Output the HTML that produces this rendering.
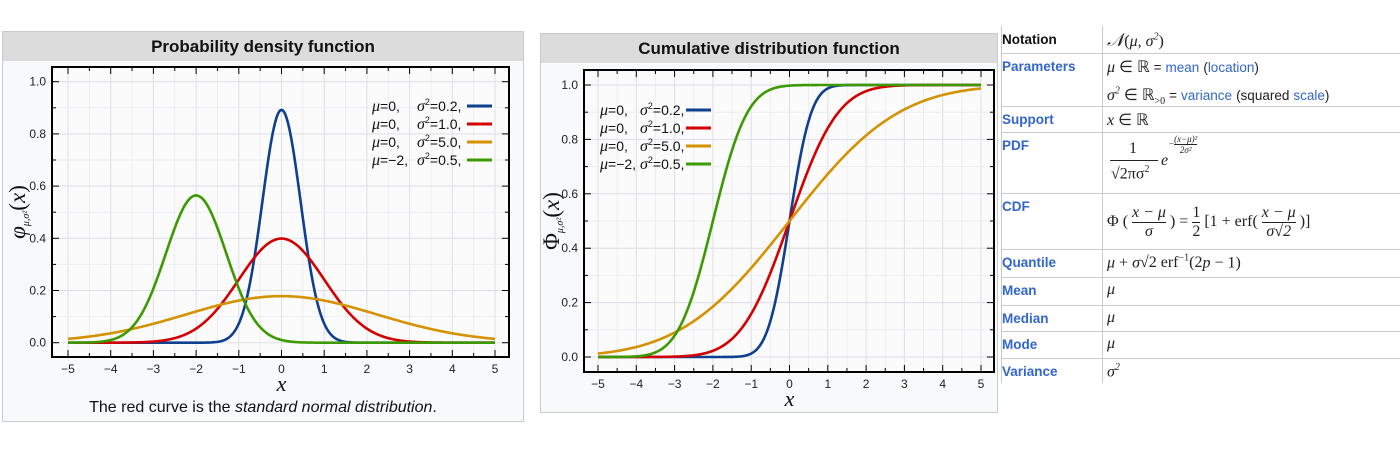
<!DOCTYPE html>
<html><head><meta charset="utf-8">
<style>
body{margin:0;width:1400px;height:450px;background:#fff;position:relative;overflow:hidden;font-family:"Liberation Sans",sans-serif;}
.panel{position:absolute;background:#f8f9fa;border:1px solid #c8ccd1;box-sizing:border-box;}
.hdr{position:absolute;left:0;right:0;top:0;height:29px;background:#dcdcdc;font-weight:bold;font-size:17px;text-align:center;line-height:30px;color:#111;}
svg{position:absolute;left:0;top:0;}
.row{position:absolute;left:1001px;width:399px;border-bottom:1px solid #c8ccd1;box-sizing:border-box;}
.lab{position:absolute;left:1px;top:5px;font-weight:bold;font-size:13.5px;color:#3366cc;}
.val{position:absolute;left:106px;top:3px;font-family:"Liberation Serif",serif;font-size:16px;color:#202122;font-style:italic;white-space:nowrap;}
.val .n{font-style:normal;}
.val .a{font-family:"Liberation Sans",sans-serif;font-style:normal;font-size:13.5px;color:#3366cc;}
.val .k{font-family:"Liberation Sans",sans-serif;font-style:normal;font-size:13.5px;color:#202122;}
</style></head><body>
<div class="panel" style="left:2px;top:31px;width:522px;height:391px;">
 <div class="hdr">Probability density function</div>
 <div style="position:absolute;left:0;right:0;top:367px;text-align:center;font-size:16px;color:#111;">The red curve is the <i>standard normal distribution</i>.</div>
</div>
<div class="panel" style="left:540px;top:33px;width:458px;height:380px;">
 <div class="hdr">Cumulative distribution function</div>
</div>
<div style="position:absolute;left:1102px;top:26px;width:1px;height:357px;background:#c8ccd1;z-index:2"></div>
<div style="position:absolute;left:1001px;top:26px;width:1px;height:357px;background:#c8ccd1"></div>
<div id="rows"></div>
<svg id="chart" width="1400" height="450"></svg>
<script>
const mus=[0,0,0,-2];
const vars=[0.2,1.0,5.0,0.5];
const colors=['#0f3f8f','#d40000','#d49100','#3c9a00'];
const legendMu=['0,','0,','0,','−2,'];
const legendVar=['0.2,','1.0,','5.0,','0.5,'];
const xTicks=[-5,-4,-3,-2,-1,0,1,2,3,4,5];
const yTicks=[0,0.2,0.4,0.6,0.8,1.0];
const NS='http://www.w3.org/2000/svg';
const svg=document.getElementById('chart');
function mk(t,a,p){const e=document.createElementNS(NS,t);for(const k in a)e.setAttribute(k,a[k]);(p||svg).appendChild(e);return e;}
function erf(x){const s=x<0?-1:1;x=Math.abs(x);const t=1/(1+0.3275911*x);const y=1-(((((1.061405429*t-1.453152027)*t)+1.421413741)*t-0.284496736)*t+0.254829592)*t*Math.exp(-x*x);return s*y;}
function pdf(x,m,v){return Math.exp(-(x-m)*(x-m)/(2*v))/Math.sqrt(2*Math.PI*v);}
function cdf(x,m,v){return 0.5*(1+erf((x-m)/Math.sqrt(2*v)));}
function chart(c){
 const X=x=>c.x0+(x+5)/10*(c.x1-c.x0);
 const Y=y=>c.y0-y*(c.y0-c.y1);
 const g=mk('g',{});
 
 
 mk('rect',{x:c.fl,y:c.ft,width:c.fr-c.fl,height:c.fb-c.ft,fill:'#fbfbfc'},g);
 for(let i=-10;i<=10;i++){const x=X(i/2);const gl=mk('line',{x1:x,x2:x,y1:c.ft,y2:c.fb,stroke:i%2==0?'#dcdfe4':'#eceef1','stroke-width':1},g);}
 for(let i=0;i<=10;i++){const y=Y(i/10);const gl=mk('line',{x1:c.fl,x2:c.fr,y1:y,y2:y,stroke:i%2==0?'#dcdfe4':'#eceef1','stroke-width':1},g);}
 for(let i=-10;i<=10;i++){const x=X(i/2);const L=i%2==0?7:4;
  mk('line',{x1:x,x2:x,y1:c.fb,y2:c.fb-L,stroke:'#000'},g);mk('line',{x1:x,x2:x,y1:c.ft,y2:c.ft+L,stroke:'#000'},g);}
 for(let i=0;i<=10;i++){const y=Y(i/10);const L=i%2==0?7:4;
  mk('line',{x1:c.fl,x2:c.fl+L,y1:y,y2:y,stroke:'#000'},g);mk('line',{x1:c.fr,x2:c.fr-L,y1:y,y2:y,stroke:'#000'},g);}
 xTicks.forEach(t=>{const e=mk('text',{x:X(t),y:c.fb+16,'text-anchor':'middle','font-size':12,fill:'#222'},g);e.textContent=t<0?'−'+(-t):t;});
 yTicks.forEach(t=>{const e=mk('text',{x:c.fl-6,y:Y(t)+4,'text-anchor':'end','font-size':12,fill:'#222'},g);e.textContent=t.toFixed(1);});
 mus.forEach((m,k)=>{let d='';for(let i=0;i<=400;i++){const x=-5+i*10/400;d+=(i?'L':'M')+X(x).toFixed(2)+','+Y(c.f(x,m,vars[k])).toFixed(2);}
  const p=mk('path',{d:d,fill:'none',stroke:colors[k],'stroke-width':2.6},g);});
 mk('rect',{x:c.fl,y:c.ft,width:c.fr-c.fl,height:c.fb-c.ft,fill:'none',stroke:'#000','stroke-width':2},g);
 mus.forEach((m,k)=>{const y=c.ly+k*18;
  const t1=mk('text',{x:c.lx,y:y+5,'font-size':14,fill:'#111'},g);
  t1.innerHTML='<tspan font-family="Liberation Serif, serif" font-style="italic" font-size="16">μ</tspan>='+legendMu[k];
  
  const t2=mk('text',{x:c.lx+c.dv,y:y+5,'font-size':14,fill:'#111'},g);
  t2.innerHTML='<tspan font-family="Liberation Serif, serif" font-style="italic" font-size="16">σ</tspan><tspan font-size="9" dy="-6">2</tspan><tspan dy="6">=</tspan>'+legendVar[k];
  mk('line',{x1:c.sx,x2:c.sx+25,y1:y,y2:y,stroke:colors[k],'stroke-width':3},g);});
 const xl=mk('text',{x:X(0),y:c.fb+34,'text-anchor':'middle','font-size':22,'font-style':'italic','font-family':'Liberation Serif, serif',fill:'#111'},g);xl.textContent='x';
 const yl=mk('text',{transform:`translate(${c.yx},${(c.ft+c.fb)/2}) rotate(-90)`,'text-anchor':'middle','font-size':23,'font-family':'Liberation Serif, serif',fill:'#111'},g);
 yl.innerHTML=c.ysym+'<tspan font-size="10" font-style="italic" dy="4">μ,σ²</tspan><tspan dy="-4">(</tspan><tspan font-style="italic">x</tspan>)';
 
}
chart({name:'pdf-chart',f:pdf,x0:68,x1:495,y0:342.7,y1:81.7,fl:52,fr:509,ft:67,fb:357,lx:372,ly:106,dv:45,sx:467,yx:25,ysym:'<tspan font-style="italic">φ</tspan>'});
chart({name:'cdf-chart',f:cdf,x0:598,x1:981,y0:357,y1:85,fl:584,fr:994,ft:70,fb:372,lx:600,ly:110,dv:40,sx:686,yx:559,ysym:'Φ'});

const rowData=[
 ['Notation',27,54,'<span style="font-family:\'Liberation Serif\',serif;font-size:18px">𝒩</span><span class="n">(</span>μ, σ<sup style="font-size:10px">2</sup><span class="n">)</span>',true],
 ['Parameters',54,107,'μ <span class="n">∈ ℝ</span> <span class="k">=</span> <span class="a">mean</span> <span class="k">(</span><span class="a">location</span><span class="k">)</span><br><span style="line-height:30px">σ<sup style="font-size:10px">2</sup> <span class="n">∈ ℝ<sub style="font-size:10px">&gt;0</sub></span> <span class="k">=</span> <span class="a">variance</span> <span class="k">(squared</span> <span class="a">scale</span><span class="k">)</span></span>'],
 ['Support',107,133,'x <span class="n">∈ ℝ</span>'],
 ['PDF',133,194,'<div style="position:relative;height:58px"><span class="n" style="position:absolute;left:22px;top:4px">1</span><span style="position:absolute;left:3px;top:24px;width:48px;border-top:1px solid #222"></span><span class="n" style="position:absolute;left:4px;top:28px">√2πσ<sup style="font-size:10px">2</sup></span><span style="position:absolute;left:54px;top:16px">e</span><span class="n" style="position:absolute;left:62px;top:-2px;font-size:9px">−<span style="display:inline-block;text-align:center;vertical-align:middle;line-height:10px"><i>(x−μ)²</i><br><span style="border-top:1px solid #222;display:block"><i>2σ²</i></span></span></span></div>'],
 ['CDF',194,250,'<span class="n" style="font-size:16px;line-height:50px">Φ ( <span style="display:inline-block;text-align:center;vertical-align:middle;line-height:18px;font-style:italic">x − μ<br><span style="border-top:1px solid #222;display:block">σ</span></span> ) = <span style="display:inline-block;text-align:center;vertical-align:middle;line-height:18px">1<br><span style="border-top:1px solid #222;display:block">2</span></span> [1 + erf( <span style="display:inline-block;text-align:center;vertical-align:middle;line-height:18px;font-style:italic">x − μ<br><span style="border-top:1px solid #222;display:block">σ√2</span></span> )]</span>'],
 ['Quantile',250,278,'μ <span class="n">+</span> σ<span class="n">√2 erf<sup style="font-size:10px">−1</sup>(2</span>p<span class="n"> − 1)</span>'],
 ['Mean',278,306,'μ'],
 ['Median',306,332,'μ'],
 ['Mode',332,359,'μ'],
 ['Variance',359,383,'σ<sup style="font-size:10px">2</sup>']
];
const rows=document.getElementById('rows');
rowData.forEach(r=>{const d=document.createElement('div');d.className='row';d.style.top=r[1]+'px';d.style.height=(r[2]-r[1])+'px';
 if(r[0]==='Variance')d.style.borderBottom='none';
 
 
 d.innerHTML='<div class="lab" style="'+(r[4]?'color:#111':'')+'">'+r[0]+'</div><div class="val">'+r[3]+'</div>';
 rows.appendChild(d);});
</script>
</body></html>
